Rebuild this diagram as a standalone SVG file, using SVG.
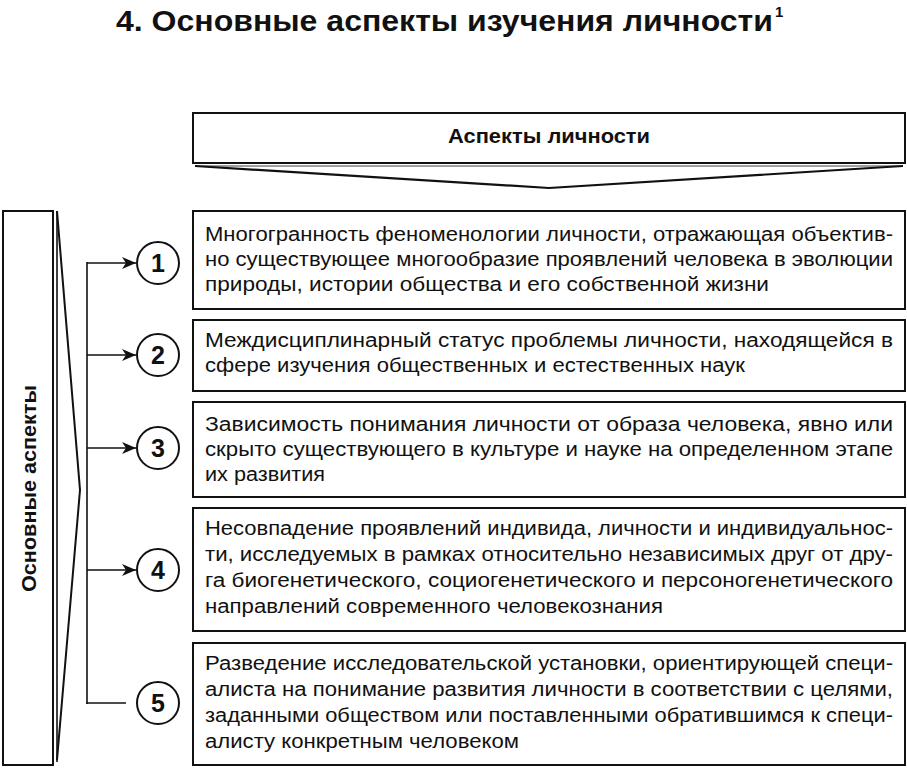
<svg xmlns="http://www.w3.org/2000/svg" width="907" height="768" viewBox="0 0 907 768">
<defs>
<marker id="arr" markerWidth="14" markerHeight="12" refX="14" refY="6" orient="auto" markerUnits="userSpaceOnUse">
<path d="M0,0 L14,6 L0,12 L4,6 Z" fill="#111"/>
</marker>
<style>
.box{fill:#fff;stroke:#111;stroke-width:2}
.t{font-family:"Liberation Sans",Arial,sans-serif;font-size:20px;fill:#111}
.b{font-family:"Liberation Sans",Arial,sans-serif;font-weight:bold;fill:#111}
.num{font-family:"Liberation Sans",Arial,sans-serif;font-weight:bold;font-size:25px;fill:#111;text-anchor:middle}
.c{fill:#fff;stroke:#111;stroke-width:2}
.ln{fill:none;stroke:#111;stroke-width:1.6}
</style>
</defs>
<rect width="907" height="768" fill="#fff"/>
<g id="title">
<text class="b" x="116" y="31" font-size="29" textLength="657" lengthAdjust="spacingAndGlyphs">4. Основные аспекты изучения личности</text>
<text class="b" x="775" y="17" font-size="15">1</text>
</g>
<g id="header">
<rect class="box" x="193" y="113" width="712" height="50"/>
<text class="b" x="448" y="143" font-size="20" textLength="202" lengthAdjust="spacingAndGlyphs">Аспекты личности</text>
<path d="M195,166 L549,188 L903,166" fill="none" stroke="#111" stroke-width="2.2"/>
<line x1="195" y1="166" x2="903" y2="166" stroke="#111" stroke-width="0.8"/>
</g>
<g id="left">
<rect class="box" x="3" y="211" width="50" height="554"/>
<line x1="57" y1="211" x2="57" y2="762" stroke="#111" stroke-width="1.6"/>
<path d="M57,211 L80,490 L57,760" fill="none" stroke="#111" stroke-width="2"/>
<text class="b" font-size="21" transform="translate(36,592) rotate(-90)" textLength="207" lengthAdjust="spacingAndGlyphs">Основные аспекты</text>
</g>
<g id="connectors">
<line class="ln" x1="87" y1="262" x2="87" y2="704"/>
<line class="ln" x1="87" y1="263" x2="136" y2="263" marker-end="url(#arr)"/>
<line class="ln" x1="87" y1="355" x2="136" y2="355" marker-end="url(#arr)"/>
<line class="ln" x1="87" y1="448" x2="136" y2="448" marker-end="url(#arr)"/>
<line class="ln" x1="87" y1="570" x2="136" y2="570" marker-end="url(#arr)"/>
<line class="ln" x1="86" y1="703" x2="126" y2="703"/>
</g>
<g id="n1">
<circle class="c" cx="158" cy="263" r="21"/>
<text class="num" x="158" y="272">1</text>
<rect class="box" x="193" y="211" width="712" height="98"/>
<text class="t" x="205" y="241" textLength="688" lengthAdjust="spacingAndGlyphs">Многогранность феноменологии личности, отражающая объектив-</text>
<text class="t" x="205" y="266" textLength="688" lengthAdjust="spacingAndGlyphs">но существующее многообразие проявлений человека в эволюции</text>
<text class="t" x="205" y="291" textLength="564" lengthAdjust="spacingAndGlyphs">природы, истории общества и его собственной жизни</text>
</g>
<g id="n2">
<circle class="c" cx="158" cy="355" r="21"/>
<text class="num" x="158" y="364">2</text>
<rect class="box" x="193" y="320" width="712" height="71"/>
<text class="t" x="205" y="347" textLength="688" lengthAdjust="spacingAndGlyphs">Междисциплинарный статус проблемы личности, находящейся в</text>
<text class="t" x="205" y="372" textLength="540" lengthAdjust="spacingAndGlyphs">сфере изучения общественных и естественных наук</text>
</g>
<g id="n3">
<circle class="c" cx="158" cy="448" r="21"/>
<text class="num" x="158" y="457">3</text>
<rect class="box" x="193" y="402" width="712" height="95"/>
<text class="t" x="205" y="431" textLength="688" lengthAdjust="spacingAndGlyphs">Зависимость понимания личности от образа человека, явно или</text>
<text class="t" x="205" y="456" textLength="688" lengthAdjust="spacingAndGlyphs">скрыто существующего в культуре и науке на определенном этапе</text>
<text class="t" x="205" y="481" textLength="120" lengthAdjust="spacingAndGlyphs">их развития</text>
</g>
<g id="n4">
<circle class="c" cx="158" cy="570" r="21"/>
<text class="num" x="158" y="579">4</text>
<rect class="box" x="193" y="508" width="712" height="123"/>
<text class="t" x="205" y="535" textLength="688" lengthAdjust="spacingAndGlyphs">Несовпадение проявлений индивида, личности и индивидуальнос-</text>
<text class="t" x="205" y="561" textLength="688" lengthAdjust="spacingAndGlyphs">ти, исследуемых в рамках относительно независимых друг от дру-</text>
<text class="t" x="205" y="587" textLength="688" lengthAdjust="spacingAndGlyphs">га биогенетического, социогенетического и персоногенетического</text>
<text class="t" x="205" y="613" textLength="458" lengthAdjust="spacingAndGlyphs">направлений современного человекознания</text>
</g>
<g id="n5">
<circle class="c" cx="158" cy="703" r="21"/>
<text class="num" x="158" y="712">5</text>
<rect class="box" x="193" y="643" width="712" height="122"/>
<text class="t" x="205" y="670" textLength="688" lengthAdjust="spacingAndGlyphs">Разведение исследовательской установки, ориентирующей специ-</text>
<text class="t" x="205" y="696" textLength="688" lengthAdjust="spacingAndGlyphs">алиста на понимание развития личности в соответствии с целями,</text>
<text class="t" x="205" y="722" textLength="688" lengthAdjust="spacingAndGlyphs">заданными обществом или поставленными обратившимся к специ-</text>
<text class="t" x="205" y="748" textLength="314" lengthAdjust="spacingAndGlyphs">алисту конкретным человеком</text>
</g>
</svg>
